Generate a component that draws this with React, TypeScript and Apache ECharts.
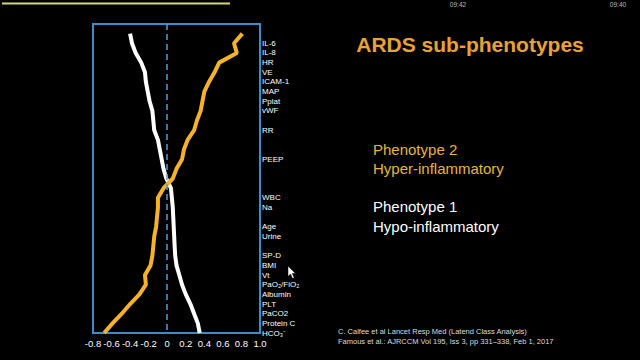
import React, { useEffect, useRef } from "react";
import * as echarts from "echarts";

const yLabels = [
  "", "", "IL-6", "IL-8", "HR", "VE", "ICAM-1", "MAP", "Pplat", "vWF", "",
  "RR", "", "", "PEEP", "", "", "", "WBC", "Na", "", "Age", "Urine", "",
  "SP-D", "BMI", "Vt", "PaO₂/FiO₂", "Albumin", "PLT", "PaCO2", "Protein C", "HCO₃⁻",
];

// Phenotype 1 (hypo-inflammatory), white
const phenotype1 = [
  null, -0.4, -0.38, -0.34, -0.28, -0.24, -0.23, -0.21, -0.19, -0.16, -0.15,
  -0.14, -0.1, -0.08, -0.06, -0.04, -0.01, 0.04, 0.05, 0.06, 0.065,
  0.07, 0.075, 0.08, 0.086, 0.1, 0.13, 0.16, 0.2, 0.25, 0.29, 0.33, 0.35,
];

// Phenotype 2 (hyper-inflammatory), orange
const phenotype2 = [
  null, 0.81, 0.72, 0.75, 0.56, 0.51, 0.45, 0.4, 0.38, 0.36, 0.32,
  0.29, 0.22, 0.18, 0.16, 0.1, 0.06, -0.04, -0.1, -0.1, -0.11,
  -0.12, -0.14, -0.15, -0.16, -0.18, -0.24, -0.23, -0.3, -0.4, -0.49, -0.59, -0.68,
];

const xTicks = { min: -0.8, max: 1.0, interval: 0.2 };

const FONT = "Liberation Sans, Arial, sans-serif";

export default function App() {
  const ref = useRef<HTMLDivElement>(null);
  useEffect(() => {
    if (!ref.current) return;
    const chart = echarts.init(ref.current, null, { renderer: "svg" });
    const cats = yLabels.map((l, i) => (l ? l : "#" + i));
    chart.setOption({
      animation: false,
      backgroundColor: "#000000",
      grid: {
        left: 93,
        top: 24,
        width: 167,
        height: 309,
        show: true,
        borderColor: "#3a8ccc",
        borderWidth: 2,
        backgroundColor: "transparent",
      },
      xAxis: {
        type: "value",
        min: xTicks.min,
        max: xTicks.max,
        interval: xTicks.interval,
        axisLine: { show: false },
        axisTick: { show: false },
        splitLine: { show: false },
        axisLabel: {
          color: "#ffffff",
          fontSize: 9.5,
          fontFamily: FONT,
          margin: 5,
          formatter: (v: number) => (Math.abs(v) < 1e-9 ? "0" : v.toFixed(1)),
        },
      },
      yAxis: {
        type: "category",
        data: cats,
        inverse: true,
        boundaryGap: false,
        position: "right",
        axisLine: { show: false },
        axisTick: { show: false },
        splitLine: { show: false },
        axisLabel: {
          interval: 0,
          color: "#ffffff",
          fontSize: 8,
          fontFamily: FONT,
          margin: 2,
          formatter: (v: string) => (v.startsWith("#") ? "" : v),
        },
      },
      series: [
        {
          type: "line",
          data: phenotype1,
          symbol: "none",
          lineStyle: { color: "#ffffff", width: 4 },
          z: 3,
          markLine: {
            silent: true,
            symbol: "none",
            label: { show: false },
            lineStyle: { color: "#4aa0dc", type: [6, 4], width: 1.5 },
            data: [{ xAxis: 0 }],
          },
        },
        {
          type: "line",
          data: phenotype2,
          symbol: "none",
          lineStyle: { color: "#f5b325", width: 4 },
          z: 4,
        },
      ],
      graphic: [
        {
          type: "line",
          shape: { x1: 2, y1: 3.5, x2: 230, y2: 3.5 },
          style: { stroke: "#d8d870", lineWidth: 2 },
        },
        {
          type: "text",
          x: 458,
          y: 4,
          style: { text: "09:42", fill: "#bbbbbb", font: `6.5px ${FONT}`, align: "center", verticalAlign: "middle" },
        },
        {
          type: "text",
          x: 618,
          y: 4,
          style: { text: "09:40", fill: "#bbbbbb", font: `6.5px ${FONT}`, align: "center", verticalAlign: "middle" },
        },
        {
          type: "text",
          x: 470,
          y: 44,
          style: { text: "ARDS sub-phenotypes", fill: "#eba232", font: `bold 21px ${FONT}`, align: "center", verticalAlign: "middle" },
        },
        {
          type: "text",
          x: 373,
          y: 149,
          style: { text: "Phenotype 2", fill: "#e9b43c", font: `15px ${FONT}`, align: "left", verticalAlign: "middle" },
        },
        {
          type: "text",
          x: 373,
          y: 168,
          style: { text: "Hyper-inflammatory", fill: "#e9b43c", font: `15px ${FONT}`, align: "left", verticalAlign: "middle" },
        },
        {
          type: "text",
          x: 373,
          y: 206,
          style: { text: "Phenotype 1", fill: "#ffffff", font: `15px ${FONT}`, align: "left", verticalAlign: "middle" },
        },
        {
          type: "text",
          x: 373,
          y: 226,
          style: { text: "Hypo-inflammatory", fill: "#ffffff", font: `15px ${FONT}`, align: "left", verticalAlign: "middle" },
        },
        {
          type: "text",
          x: 338,
          y: 331,
          style: { text: "C. Calfee et al Lancet Resp Med (Latend Class Analysis)", fill: "#dddddd", font: `7.5px ${FONT}`, align: "left", verticalAlign: "middle" },
        },
        {
          type: "text",
          x: 338,
          y: 341,
          style: { text: "Famous et al.: AJRCCM Vol 195, Iss 3, pp 331–338, Feb 1, 2017", fill: "#dddddd", font: `7.5px ${FONT}`, align: "left", verticalAlign: "middle" },
        },
        {
          type: "polygon",
          shape: {
            points: [
              [288, 266], [288, 276.5], [290.5, 274], [292.5, 278.5], [294.2, 277.7], [292.3, 273.4], [295.5, 273.4],
            ],
          },
          style: { fill: "#ffffff", stroke: "#000000", lineWidth: 0.5 },
        },
      ],
    });
    return () => chart.dispose();
  }, []);
  return (
    <div
      ref={ref}
      style={{ position: "fixed", left: 0, top: 0, width: 640, height: 360, background: "#000" }}
    />
  );
}
